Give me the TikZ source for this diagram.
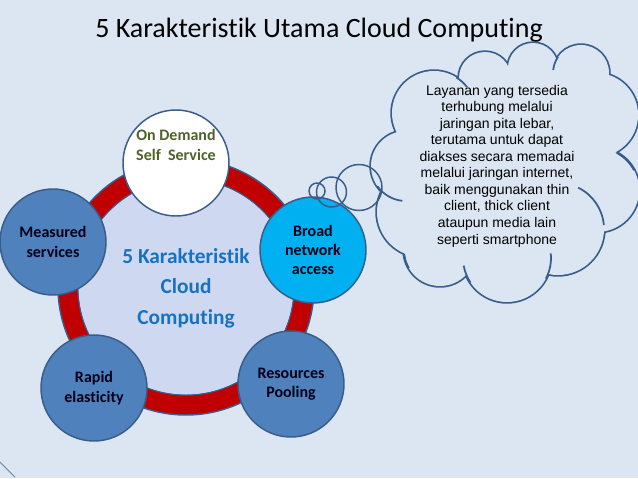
\documentclass[tikz,border=0pt]{standalone}
\usepackage{fontspec}
\setmainfont{Carlito}[Ligatures={NoCommon,NoContextual}]
\newfontfamily\arialfont{Liberation Sans}

\definecolor{slidebg}{RGB}{220,230,242}
\definecolor{ringred}{RGB}{192,0,0}
\definecolor{edgeblue}{RGB}{56,93,138}
\definecolor{featblue}{RGB}{79,129,189}
\definecolor{broadblue}{RGB}{0,176,240}
\definecolor{corefill}{RGB}{206,216,240}
\definecolor{coretext}{RGB}{23,114,196}
\definecolor{olivetext}{RGB}{79,98,40}

\tikzset{
  feature/.style={circle, draw=edgeblue, line width=1.1pt, minimum size=79.5pt, inner sep=0pt},
  featlabel/.style={align=center, font=\bfseries\fontsize{12}{14.5}\selectfont, text=black!90!blue},
  puff/.style={draw=edgeblue, line width=2.6pt},
  hook/.style={draw=edgeblue, line width=1.3pt},
  bubble/.style={draw=edgeblue, line width=1.1pt},
}

\begin{document}
\begin{tikzpicture}[x=0.75pt,y=0.75pt,yscale=-1,xscale=1]
\useasboundingbox (0,0) rectangle (638,478);
\fill[slidebg] (0,0) rectangle (638,478);

%Straight Lines (slide corner)
\draw[color={rgb, 255:red, 120; green, 140; blue, 172}, line width=0.8pt] (0,462) -- (15,477);

% Text Node
\node[anchor=base, font=\fontsize{21}{25}\selectfont] (title) at (319,38) {5 Karakteristik Utama Cloud Computing};

%Shape: Ring
\draw[edgeblue, line width=1.1pt, fill=ringred, even odd rule] (186,287) circle[radius=128] (186,287) circle[radius=108];
\fill[corefill] (186,287) circle[radius=107.4];

% Text Node
\node[align=center, text=coretext, font=\bfseries\fontsize{16}{23}\selectfont] (core) at (186,288) {5 Karakteristik\\Cloud\\Computing};

%Shape: Circles
\node[feature, fill=white] (demand) at (176,163) {};
\node[align=center, text=olivetext, font=\bfseries\fontsize{12}{14.5}\selectfont] (demandtext) at (176,145) {On Demand\\Self\ \ Service};
\node[feature, fill=featblue] (measured) at (53,242) {};
\node[featlabel] at (measured) {Measured\\services};
\node[feature, fill=broadblue] (broad) at (313,250) {};
\node[featlabel] at (broad) {Broad\\network\\access};
\node[feature, fill=featblue] (rapid) at (94,388) {};
\node[featlabel] at (rapid) {Rapid\\elasticity};
\node[feature, fill=featblue] (pooling) at (291,384) {};
\node[featlabel] at (pooling) {Resources\\Pooling};

%Shape: Cloud (puffs, then cover the inside, then the inner hooks)
\foreach \cx/\cy/\r in {434/113/42, 485/78/26, 533/68/25, 581/73/28, 596/115/42, 597/190/42, 558/229/46, 507/258/44, 440/250/36, 422/212/45, 406/166/35}
  \draw[puff] (\cx,\cy) circle[radius=\r];
\foreach \cx/\cy/\r in {434/113/42, 485/78/26, 533/68/25, 581/73/28, 596/115/42, 597/190/42, 558/229/46, 507/258/44, 440/250/36, 422/212/45, 406/166/35}
  \fill[slidebg] (\cx,\cy) circle[radius=\r];
\fill[slidebg] (434,113) -- (485,78) -- (533,68) -- (581,73) -- (596,115) -- (597,190) -- (558,229) -- (507,258) -- (440,250) -- (422,212) -- (406,166) -- cycle;
\foreach \cx/\cy/\r/\a/\b in {406/166/35/145/96, 434/113/42/-58/-38, 581/73/28/215/186, 597/190/42/-28/-62, 558/229/46/-5/-64, 507/258/44/28/-6, 507/258/44/146/170, 440/250/36/150/174}
  \draw[hook] (\cx,\cy) ++(\a:\r) arc[start angle=\a, end angle=\b, radius=\r];

% Text Node
\node[align=center, font=\arialfont\fontsize{10.5}{12.4}\selectfont] (note) at (497,166)
  {Layanan yang tersedia\\terhubung melalui\\jaringan pita lebar,\\terutama untuk dapat\\diakses secara memadai\\melalui jaringan internet,\\baik menggunakan thin\\client, thick client\\ataupun media lain\\seperti smartphone};

%Shape: Thought bubbles
\draw[bubble] (317,191) circle[radius=8];
\draw[bubble] (331.5,192) circle[radius=15];
\draw[bubble] (359,187.5) circle[radius=23];

\end{tikzpicture}
\end{document}
